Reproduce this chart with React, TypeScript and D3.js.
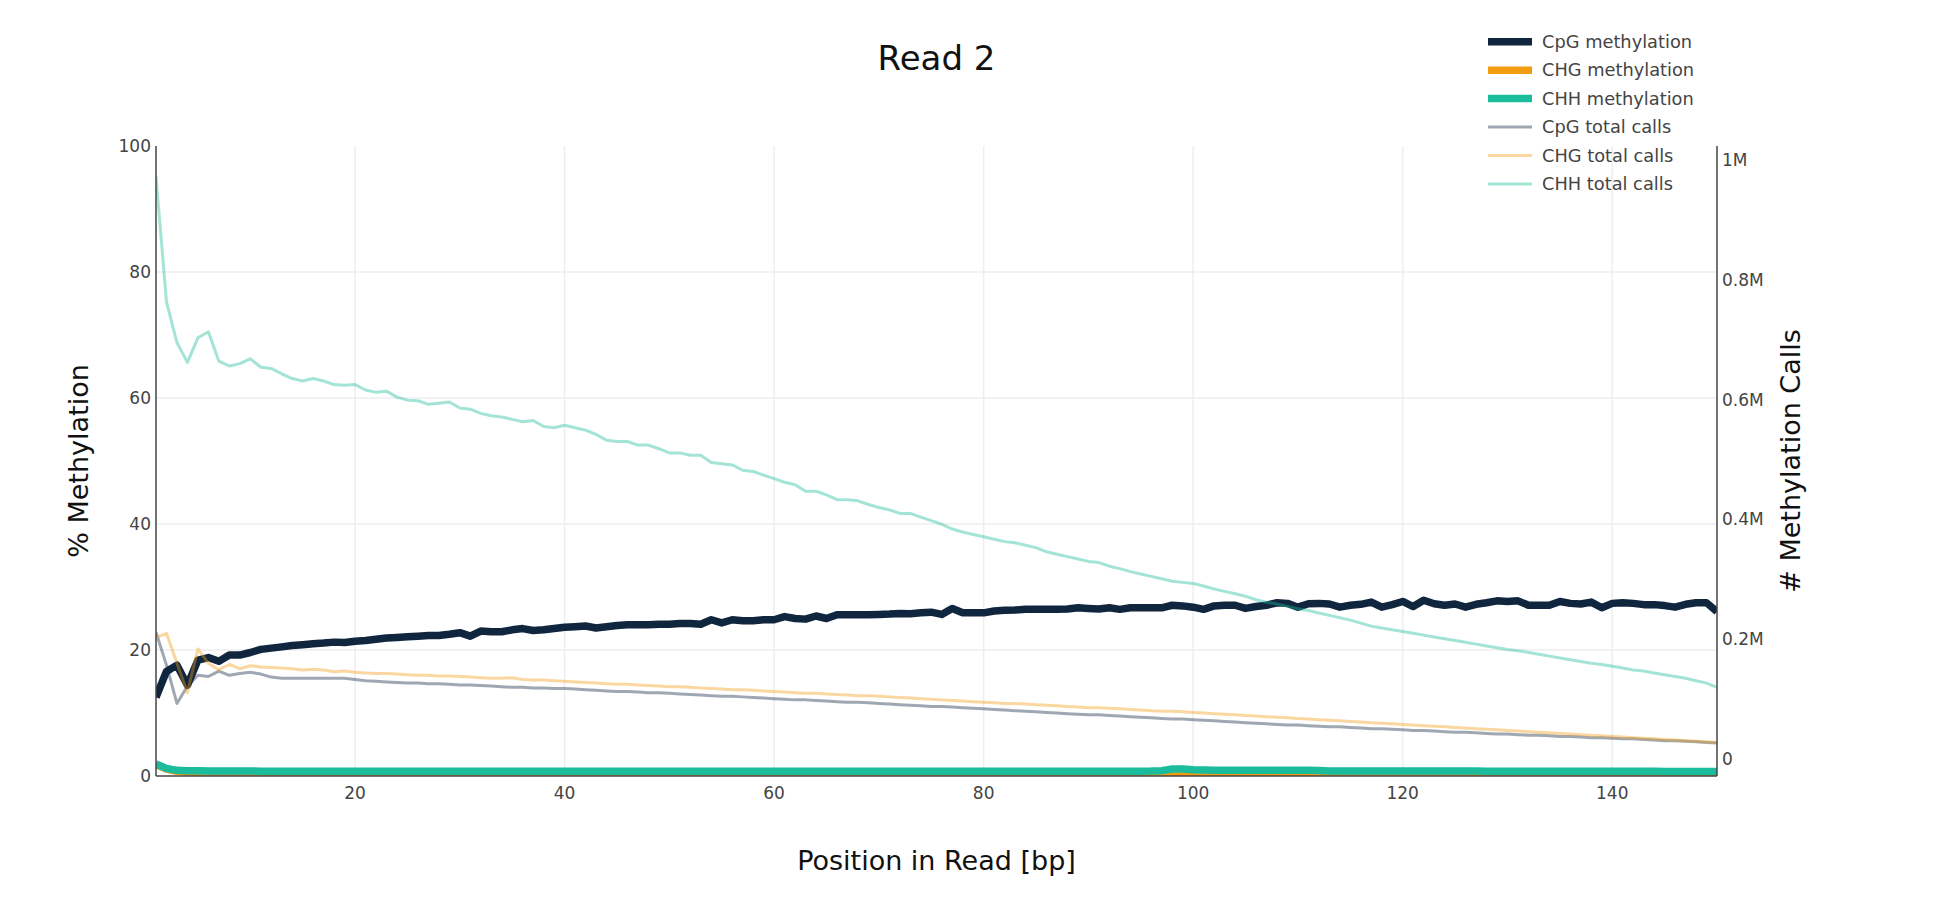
import * as d3 from "d3";

// Read 2 — methylation by position in read
const positions = d3.range(1, 151);

const cpgMeth = [
  12.5, 16.6, 17.6, 14.4, 18.4, 18.8, 18.2, 19.2, 19.2, 19.6,
  20.1, 20.3, 20.5, 20.7, 20.85, 21.0, 21.1, 21.25, 21.2, 21.4,
  21.5, 21.7, 21.9, 22.0, 22.1, 22.2, 22.3, 22.3, 22.5, 22.75,
  22.2, 23.0, 22.9, 22.9, 23.2, 23.4, 23.1, 23.2, 23.4, 23.6,
  23.7, 23.8, 23.5, 23.7, 23.9, 24.0, 24.0, 24.0, 24.1, 24.1,
  24.2, 24.2, 24.1, 24.8, 24.3, 24.8, 24.65, 24.65, 24.8, 24.8,
  25.3, 25.0, 24.9, 25.4, 25.0, 25.6, 25.6, 25.6, 25.6, 25.65,
  25.7, 25.8, 25.75, 25.9, 26.0, 25.65, 26.6, 25.9, 25.9, 25.9,
  26.2, 26.3, 26.35, 26.45, 26.45, 26.45, 26.45, 26.5, 26.7, 26.6,
  26.5, 26.7, 26.45, 26.7, 26.7, 26.7, 26.7, 27.1, 27.0, 26.8,
  26.45, 27.0, 27.1, 27.1, 26.6, 26.9, 27.1, 27.5, 27.4, 26.8,
  27.35, 27.4, 27.3, 26.8, 27.1, 27.25, 27.6, 26.8, 27.2, 27.7,
  26.9, 27.9, 27.35, 27.1, 27.3, 26.8, 27.25, 27.5, 27.8, 27.7,
  27.8, 27.1, 27.1, 27.1, 27.7, 27.4, 27.3, 27.6, 26.7, 27.4,
  27.5, 27.4, 27.2, 27.2, 27.05, 26.8, 27.25, 27.5, 27.5, 26.1,
];

const chgMeth = [
  1.8, 1.1, 0.75, 0.6, 0.55, 0.5, 0.5, 0.5, 0.5, 0.5,
  0.5, 0.5, 0.5, 0.5, 0.5, 0.5, 0.5, 0.5, 0.5, 0.5,
  0.5, 0.5, 0.5, 0.5, 0.5, 0.5, 0.5, 0.5, 0.5, 0.5,
  0.5, 0.5, 0.5, 0.5, 0.5, 0.5, 0.5, 0.5, 0.5, 0.5,
  0.5, 0.5, 0.5, 0.5, 0.5, 0.5, 0.5, 0.5, 0.5, 0.5,
  0.5, 0.5, 0.5, 0.5, 0.5, 0.5, 0.5, 0.5, 0.5, 0.5,
  0.5, 0.5, 0.5, 0.5, 0.5, 0.5, 0.5, 0.5, 0.5, 0.5,
  0.5, 0.5, 0.5, 0.5, 0.5, 0.5, 0.5, 0.5, 0.5, 0.5,
  0.5, 0.5, 0.5, 0.5, 0.5, 0.5, 0.5, 0.5, 0.5, 0.5,
  0.5, 0.5, 0.5, 0.5, 0.5, 0.45, 0.3, 0.2, 0.3, 0.5,
  0.5, 0.5, 0.5, 0.5, 0.5, 0.5, 0.5, 0.5, 0.5, 0.5,
  0.5, 0.5, 0.5, 0.5, 0.5, 0.5, 0.5, 0.5, 0.5, 0.5,
  0.5, 0.5, 0.5, 0.5, 0.5, 0.5, 0.5, 0.5, 0.5, 0.5,
  0.5, 0.5, 0.5, 0.5, 0.5, 0.5, 0.5, 0.5, 0.5, 0.5,
  0.5, 0.5, 0.5, 0.5, 0.5, 0.5, 0.5, 0.5, 0.5, 0.5,
];

const chhMeth = [
  1.9, 1.2, 0.9, 0.85, 0.85, 0.8, 0.78, 0.78, 0.78, 0.78,
  0.77, 0.77, 0.77, 0.77, 0.76, 0.76, 0.76, 0.76, 0.76, 0.76,
  0.76, 0.76, 0.76, 0.76, 0.76, 0.76, 0.76, 0.76, 0.76, 0.76,
  0.76, 0.76, 0.76, 0.76, 0.76, 0.76, 0.76, 0.76, 0.76, 0.76,
  0.76, 0.76, 0.76, 0.76, 0.76, 0.76, 0.76, 0.76, 0.76, 0.76,
  0.76, 0.76, 0.76, 0.76, 0.76, 0.76, 0.76, 0.76, 0.76, 0.76,
  0.76, 0.76, 0.76, 0.76, 0.76, 0.76, 0.76, 0.76, 0.76, 0.76,
  0.76, 0.76, 0.76, 0.76, 0.76, 0.76, 0.76, 0.76, 0.76, 0.76,
  0.76, 0.76, 0.76, 0.76, 0.76, 0.76, 0.76, 0.76, 0.76, 0.76,
  0.76, 0.76, 0.76, 0.76, 0.76, 0.78, 0.85, 1.1, 1.1, 1.0,
  0.95, 0.9, 0.9, 0.9, 0.9, 0.9, 0.9, 0.9, 0.9, 0.9,
  0.9, 0.88, 0.8, 0.78, 0.78, 0.78, 0.78, 0.78, 0.78, 0.78,
  0.78, 0.78, 0.78, 0.78, 0.78, 0.78, 0.78, 0.77, 0.77, 0.77,
  0.77, 0.77, 0.77, 0.77, 0.77, 0.76, 0.76, 0.76, 0.76, 0.75,
  0.75, 0.75, 0.74, 0.74, 0.73, 0.72, 0.72, 0.72, 0.72, 0.72,
];

// total calls, in thousands
const cpgCalls = [
  212, 157, 93, 122, 140, 138, 147, 140, 143, 145,
  142, 137, 135, 135, 135, 135, 135, 135, 135, 133,
  131, 130, 129, 128, 127, 127, 126, 126, 125, 124,
  124, 123, 122, 121, 120, 120, 119, 119, 118, 118,
  117, 116, 115, 114, 113, 113, 112, 111, 111, 110,
  109, 108, 107, 106, 105, 105, 104, 103, 102, 101,
  100, 99, 99, 98, 97, 96, 95, 95, 94, 93,
  92, 91, 90, 89, 88, 88, 87, 86, 85, 84,
  83, 82, 81, 80, 79, 78, 77, 76, 75, 74,
  74, 73, 72, 71, 70, 69, 68, 67, 67, 66,
  65, 64, 63, 62, 61, 60, 59, 58, 57, 57,
  56, 55, 54, 54, 53, 52, 51, 51, 50, 49,
  48, 48, 47, 46, 45, 45, 44, 43, 42, 42,
  41, 40, 40, 39, 38, 38, 37, 36, 36, 35,
  34, 34, 33, 32, 31, 31, 30, 29, 28, 27,
];

const chgCalls = [
  203, 210, 160, 111, 184, 160, 149, 158, 151, 156,
  154, 153, 152, 151, 149, 150, 149, 146, 147, 145,
  144, 143, 143, 142, 141, 140, 140, 139, 139, 138,
  137, 136, 135, 135, 136, 133, 132, 132, 131, 130,
  129, 128, 127, 126, 125, 125, 124, 123, 122, 121,
  121, 120, 119, 118, 117, 116, 116, 115, 114, 113,
  112, 111, 110, 110, 109, 108, 107, 106, 106, 105,
  104, 103, 102, 101, 100, 99, 98, 97, 96, 95,
  94, 93, 93, 92, 91, 90, 89, 88, 87, 86,
  86, 85, 84, 83, 82, 81, 80, 80, 79, 78,
  77, 76, 75, 74, 73, 72, 71, 70, 69, 68,
  67, 66, 65, 64, 63, 62, 61, 60, 59, 58,
  57, 56, 55, 54, 53, 52, 51, 50, 49, 48,
  47, 46, 45, 44, 43, 42, 41, 40, 39, 38,
  37, 36, 35, 34, 33, 32, 31, 30, 29, 28,
];

const chhCalls = [
  972, 763, 695, 662, 703, 713, 664, 656, 660, 668,
  654, 652, 643, 635, 631, 635, 631, 625, 624, 625,
  616, 612, 614, 604, 599, 598, 592, 594, 596, 586,
  584, 577, 573, 571, 567, 563, 565, 555, 553, 557,
  553, 549, 542, 532, 530, 530, 524, 524, 518, 511,
  511, 507, 507, 495, 493, 491, 482, 480, 474, 468,
  462, 458, 447, 447, 441, 433, 433, 431, 425, 420,
  416, 410, 410, 404, 398, 392, 384, 379, 375, 371,
  367, 363, 361, 357, 353, 346, 342, 338, 334, 330,
  328, 322, 318, 313, 309, 305, 301, 297, 295, 293,
  289, 284, 280, 276, 272, 266, 262, 259, 255, 251,
  248, 244, 240, 236, 232, 227, 222, 219, 216, 213,
  210, 207, 204, 201, 198, 195, 192, 189, 186, 183,
  181, 178, 175, 172, 169, 166, 163, 160, 158, 155,
  152, 149, 147, 144, 141, 138, 135, 131, 127, 120,
];

const xTicks = [20, 40, 60, 80, 100, 120, 140];
const leftTicks = [0, 20, 40, 60, 80, 100];
const rightTicks = [0, 200, 400, 600, 800, 1000];

const NAVY = "#10263f";
const ORANGE = "#f39c12";
const TEAL = "#1abc9c";

const W = 1936;
const H = 906;
const plot = { left: 156, right: 1717, top: 146, bottom: 776 };
const FONT = "'DejaVu Sans', Verdana, sans-serif";

const x = d3.scaleLinear().domain([1, 150]).range([plot.left, plot.right]);
const yL = d3.scaleLinear().domain([0, 100]).range([plot.bottom, plot.top]);
const yR = d3.scaleLinear().domain([-28, 1023]).range([plot.bottom, plot.top]);

const series = [
  { name: "CpG methylation", values: cpgMeth, color: NAVY, width: 7.5, opacity: 1, axis: yL },
  { name: "CHG methylation", values: chgMeth, color: ORANGE, width: 7.5, opacity: 1, axis: yL },
  { name: "CHH methylation", values: chhMeth, color: TEAL, width: 7.5, opacity: 1, axis: yL },
  { name: "CpG total calls", values: cpgCalls, color: NAVY, width: 3, opacity: 0.4, axis: yR },
  { name: "CHG total calls", values: chgCalls, color: ORANGE, width: 3, opacity: 0.4, axis: yR },
  { name: "CHH total calls", values: chhCalls, color: TEAL, width: 3, opacity: 0.4, axis: yR },
];

const fmtRight = (v: number) => (v === 0 ? "0" : `${v / 1000}M`);

export default function App() {
  return (
    <svg
      width={W}
      height={H}
      style={{ position: "absolute", left: 0, top: 0, background: "#fff" }}
      fontFamily={FONT}
    >
      <defs>
        <clipPath id="plotClip">
          <rect x={plot.left} y={plot.top} width={plot.right - plot.left} height={plot.bottom - plot.top} />
        </clipPath>
      </defs>

      {/* grid */}
      {xTicks.map((t) => (
        <line key={"gx" + t} x1={x(t)} x2={x(t)} y1={plot.top} y2={plot.bottom} stroke="#eee" strokeWidth={1.5} />
      ))}
      {leftTicks.filter((t) => t > 0 && t < 100).map((t) => (
        <line key={"gy" + t} x1={plot.left} x2={plot.right} y1={yL(t)} y2={yL(t)} stroke="#eee" strokeWidth={1.5} />
      ))}

      {/* lines */}
      <g clipPath="url(#plotClip)">
        {series.map((s) => {
          const gen = d3
            .line<number>()
            .x((_, i) => x(positions[i]))
            .y((d) => s.axis(d));
          return (
            <path
              key={s.name}
              d={gen(s.values) || ""}
              fill="none"
              stroke={s.color}
              strokeOpacity={s.opacity}
              strokeWidth={s.width}
              strokeLinejoin="round"
            />
          );
        })}
      </g>

      {/* axis lines */}
      <line x1={plot.left} x2={plot.left} y1={plot.top} y2={plot.bottom} stroke="#444" strokeWidth={1.5} />
      <line x1={plot.right} x2={plot.right} y1={plot.top} y2={plot.bottom} stroke="#444" strokeWidth={1.5} />
      <line x1={plot.left} x2={plot.right} y1={plot.bottom} y2={plot.bottom} stroke="#444" strokeWidth={1.5} />

      {/* tick labels */}
      <g fontSize={17} fill="#444">
        {xTicks.map((t) => (
          <text key={"tx" + t} x={x(t)} y={plot.bottom + 23} textAnchor="middle">{t}</text>
        ))}
        {leftTicks.map((t) => (
          <text key={"tl" + t} x={plot.left - 5} y={yL(t) + 6} textAnchor="end">{t}</text>
        ))}
        {rightTicks.map((t) => (
          <text key={"tr" + t} x={plot.right + 5} y={yR(t) + 6} textAnchor="start">{fmtRight(t)}</text>
        ))}
      </g>

      {/* titles */}
      <text x={(plot.left + plot.right) / 2} y={70} textAnchor="middle" fontSize={34} fill="#111">Read 2</text>
      <text x={(plot.left + plot.right) / 2} y={870} textAnchor="middle" fontSize={27} fill="#111">Position in Read [bp]</text>
      <text
        transform={`translate(88,${(plot.top + plot.bottom) / 2}) rotate(-90)`}
        textAnchor="middle"
        fontSize={27}
        fill="#111"
      >
        % Methylation
      </text>
      <text
        transform={`translate(1800,${(plot.top + plot.bottom) / 2}) rotate(-90)`}
        textAnchor="middle"
        fontSize={27}
        fill="#111"
      >
        # Methylation Calls
      </text>

      {/* legend */}
      <g fontSize={17.8} fill="#444">
        {series.map((s, i) => {
          const cy = 41.7 + i * 28.45;
          return (
            <g key={"lg" + s.name}>
              <line x1={1488} x2={1532} y1={cy} y2={cy} stroke={s.color} strokeOpacity={s.opacity} strokeWidth={s.width} />
              <text x={1542} y={cy + 6}>{s.name}</text>
            </g>
          );
        })}
      </g>
    </svg>
  );
}
